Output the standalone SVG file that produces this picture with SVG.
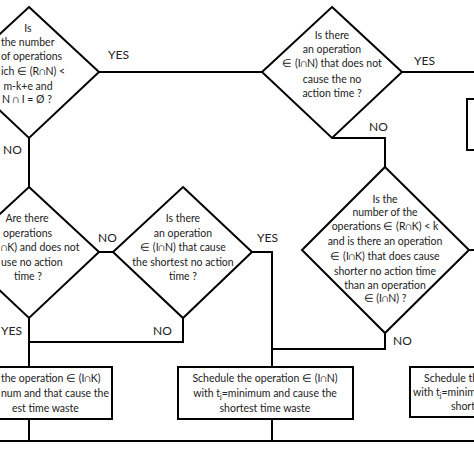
<svg xmlns="http://www.w3.org/2000/svg" width="474" height="474" viewBox="0 0 474 474">
<style>
.s{fill:none;stroke:#000;stroke-width:2}
.b{fill:#fff;stroke:#000;stroke-width:2}
.t{font-family:Lato,"Noto Sans",sans-serif;font-size:10.5px;fill:#222;text-anchor:middle}
.st{text-anchor:start}
.l{font-family:Lato,"Noto Sans",sans-serif;font-size:12px;fill:#222}
</style>
<rect width="474" height="474" fill="#fff"/>
<g id="connectors">
<path class="s" d="M99,72 H262"/>
<path class="s" d="M402,72 H474"/>
<path class="s" d="M332,138 H385 V167"/>
<path class="s" d="M469,250 H474"/>
<path class="s" d="M29,138 V187"/>
<path class="s" d="M99,252 H113"/>
<path class="s" d="M252,252 H272 V367"/>
<path class="s" d="M385,333 V349 H272"/>
<path class="s" d="M183,318 V342 H29"/>
<path class="s" d="M29,318 V367"/>
<path class="s" d="M29,419 V441"/>
<path class="s" d="M272,419 V441"/>
<path class="s" d="M0,441 H474"/>
</g>
<g id="labels">
<text class="l" x="108" y="59">YES</text>
<text class="l" x="3" y="154">NO</text>
<text class="l" x="414" y="65">YES</text>
<text class="l" x="369" y="131">NO</text>
<text class="l" x="98" y="242">NO</text>
<text class="l" x="257" y="242">YES</text>
<text class="l" x="153" y="335">NO</text>
<text class="l" x="1" y="335">YES</text>
<text class="l" x="393" y="345">NO</text>
</g>
<g id="d1">
<polygon class="b" points="29,7 99,72 29,138 -41,72"/>
<text class="t" x="28" y="32">Is</text>
<text class="t st" x="1" y="46">the number</text>
<text class="t st" x="1" y="60">of operations</text>
<text class="t st" x="1" y="75">ich ∈ (R∩N) &lt;</text>
<text class="t" x="28" y="90">m-k+e and</text>
<text class="t st" x="2" y="103">N ∩ I = Ø ?</text>
</g>
<g id="d2">
<polygon class="b" points="332,7 402,72 332,138 262,72"/>
<text class="t" x="332" y="39">Is there</text>
<text class="t" x="332" y="53">an operation</text>
<text class="t" x="332" y="67">∈ (I∩N) that does not</text>
<text class="t" x="332" y="83">cause the no</text>
<text class="t" x="332" y="97">action time ?</text>
</g>
<g id="box-top-right">
<rect class="b" x="467" y="99" width="40" height="51"/>
</g>
<g id="d5">
<polygon class="b" points="29,187 99,252 29,318 -41,252"/>
<text class="t" x="27" y="222">Are there</text>
<text class="t st" x="3" y="237">operations</text>
<text class="t st" x="1" y="251">∩K) and does not</text>
<text class="t st" x="1" y="266">use no action</text>
<text class="t" x="28" y="280">time ?</text>
</g>
<g id="d4">
<polygon class="b" points="183,187 252,252 183,318 113,252"/>
<text class="t" x="183" y="222">Is there</text>
<text class="t" x="183" y="237">an operation</text>
<text class="t" x="183" y="251">∈ (I∩N) that cause</text>
<text class="t" x="183" y="266">the shortest no action</text>
<text class="t" x="183" y="280">time ?</text>
</g>
<g id="d3">
<polygon class="b" points="385,167 469,250 385,333 302,250"/>
<text class="t" x="385" y="203">Is the</text>
<text class="t" x="385" y="216">number of the</text>
<text class="t" x="385" y="230">operations ∈ (R∩K) &lt; k</text>
<text class="t" x="385" y="245">and is there an operation</text>
<text class="t" x="385" y="260">∈ (I∩K)  that does cause</text>
<text class="t" x="385" y="275">shorter no action time</text>
<text class="t" x="385" y="289">than an operation</text>
<text class="t" x="385" y="302">∈ (I∩N) ?</text>
</g>
<g id="box1">
<rect class="b" x="-56" y="367" width="168" height="52"/>
<text class="t st" x="1" y="382">the operation ∈ (I∩K)</text>
<text class="t st" x="1" y="397">num and that cause the</text>
<text class="t st" x="12" y="412">est  time waste</text>
</g>
<g id="box2">
<rect class="b" x="178" y="367" width="175" height="52"/>
<text class="t" x="265" y="382">Schedule the operation ∈ (I∩N)</text>
<text class="t" x="265" y="397">with t<tspan font-size="7" dy="2">j</tspan><tspan dy="-2">=minimum and cause the</tspan></text>
<text class="t" x="265" y="412">shortest time waste</text>
</g>
<g id="box3">
<rect class="b" x="410" y="367" width="175" height="50"/>
<text class="t st" x="424" y="382">Schedule th</text>
<text class="t st" x="413" y="396">with t<tspan font-size="7" dy="2">j</tspan><tspan dy="-2">=minim</tspan></text>
<text class="t st" x="451" y="410">short</text>
</g>
</svg>
